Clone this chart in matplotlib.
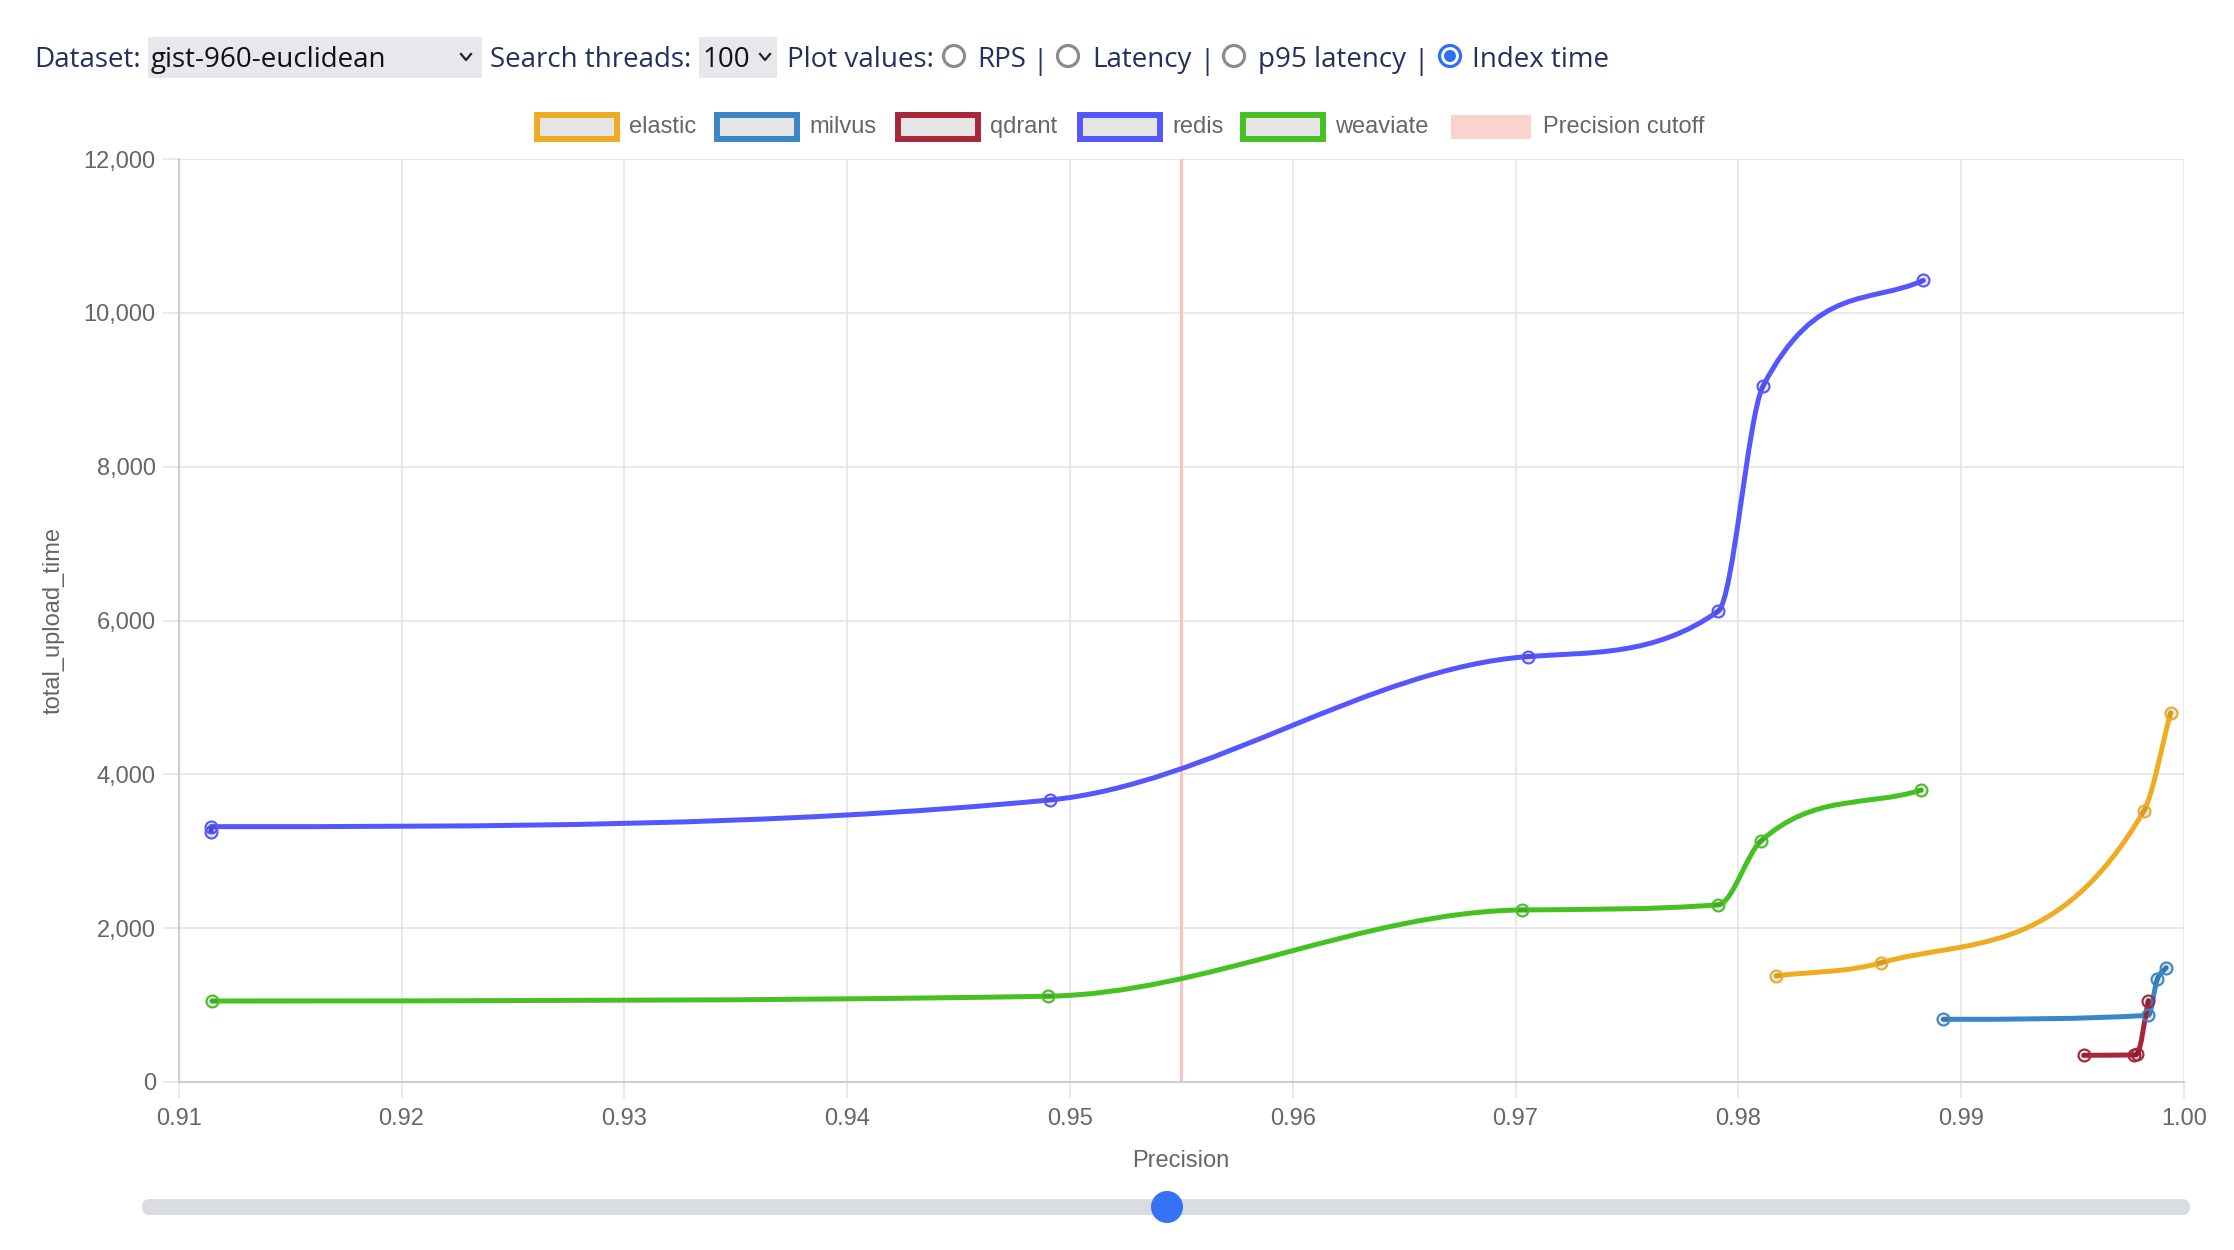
# -*- coding: utf-8 -*-

import numpy as np;
import matplotlib;
matplotlib.use("Agg");
from matplotlib import pyplot as plt;
from matplotlib.path import Path;
from matplotlib.lines import Line2D;
from matplotlib.patches import PathPatch, Rectangle, Circle, FancyBboxPatch;
from matplotlib.ticker import FuncFormatter, FixedLocator;

# values: precision on x, total_upload_time on y
engines=["elastic","milvus","qdrant","redis","weaviate"];
colors=["#efac22","#3a87c7","#a82639","#5557fe","#45c122"];

elastic_precision=[0.9817,0.9864,0.9982,0.9994];
elastic_time=[1380,1550,3525,4800];

milvus_precision=[0.9892,0.9984,0.9988,0.9992];
milvus_time=[815,867,1335,1486];

qdrant_precision=[0.9955,0.99775,0.9979,0.9984];
qdrant_time=[347,352,366,1057];

redis_precision=[0.91145,0.91145,0.9491,0.97055,0.9791,0.9811,0.9883];
redis_time=[3255,3320,3667,5531,6122,9043,10421];

weaviate_precision=[0.9115,0.9490,0.9703,0.9791,0.9810,0.9882];
weaviate_time=[1053,1115,2237,2305,3130,3795];

precision_cutoff=0.955;

x_ticks=[0.91,0.92,0.93,0.94,0.95,0.96,0.97,0.98,0.99,1.00];
y_ticks=[0,2000,4000,6000,8000,10000,12000];

plt.rcParams["font.family"]=["Liberation Sans","DejaVu Sans"];

W=2234;
H=1250;
NAVY="#22305e";
GRAY_TEXT="#666666";
GRID="#e3e3e3";

def monotonePath(xs,ys):
    # same monotone cubic as chart.js uses for cubicInterpolationMode 'monotone'
    n=len(xs);
    dk=[0.0]*n;
    mk=[0.0]*n;
    for i in range(n-1):
        dx=xs[i+1]-xs[i];
        dk[i]=(ys[i+1]-ys[i])/dx if dx!=0 else 0.0;
    for i in range(n):
        if i==0:
            mk[i]=dk[i];
        elif i==n-1:
            mk[i]=dk[i-1];
        elif np.sign(dk[i-1])!=np.sign(dk[i]):
            mk[i]=0.0;
        else:
            mk[i]=(dk[i-1]+dk[i])/2;
    for i in range(n-1):
        if abs(dk[i])<1e-9:
            mk[i]=0.0;
            mk[i+1]=0.0;
            continue;
        a=mk[i]/dk[i];
        b=mk[i+1]/dk[i];
        sq=a*a+b*b;
        if sq<=9:
            continue;
        tau=3/np.sqrt(sq);
        mk[i]=a*tau*dk[i];
        mk[i+1]=b*tau*dk[i];
    verts=[(xs[0],ys[0])];
    codes=[Path.MOVETO];
    for i in range(n-1):
        d=(xs[i+1]-xs[i])/3;
        verts.append((xs[i]+d,ys[i]+d*mk[i]));
        verts.append((xs[i+1]-d,ys[i+1]-d*mk[i+1]));
        verts.append((xs[i+1],ys[i+1]));
        codes+= [Path.CURVE4,Path.CURVE4,Path.CURVE4];
    return Path(verts,codes);

def drawChevron(ov,x,y):
    ov.add_line(Line2D([x-5,x,x+5],[y-3,y+3,y-3],color="#222222",lw=1.6));

def drawRadio(ov,x,y,selected):
    if selected:
        ov.add_patch(Circle((x,y),10.5,facecolor="white",edgecolor="#2f6ff5",lw=2.3));
        ov.add_patch(Circle((x,y),6,facecolor="#2f6ff5",edgecolor="none"));
    else:
        ov.add_patch(Circle((x,y),10.5,facecolor="white",edgecolor="#8a8a94",lw=2.3));

def drawTopBar(ov):
    fs=20;
    base=67;
    ov.add_patch(Rectangle((148,37),334,41,facecolor="#e7e7ec",edgecolor="none"));
    ov.add_patch(Rectangle((699,37),78,41,facecolor="#e7e7ec",edgecolor="none"));
    items=[(34,"Dataset:",NAVY),(151,"gist-960-euclidean","#111111"),
           (490,"Search threads:",NAVY),(702,"100","#111111"),
           (787,"Plot values:",NAVY),(977,"RPS",NAVY),(1092,"Latency",NAVY),
           (1258,"p95 latency",NAVY),(1472,"Index time",NAVY)];
    for x,s,c in items:
        ov.text(x,base,s,fontsize=fs,color=c,family=["Open Sans","DejaVu Sans"],
                ha="left",va="baseline");
    for x in [1040,1207,1421]:
        ov.text(x,base+2,"|",fontsize=fs,color=NAVY,family=["Open Sans","DejaVu Sans"],
                ha="center",va="baseline");
    drawChevron(ov,466,57);
    drawChevron(ov,765,57);
    drawRadio(ov,954,56,False);
    drawRadio(ov,1068,56,False);
    drawRadio(ov,1234,56,False);
    drawRadio(ov,1450,56,True);

def drawLegend(ov):
    box_x=[537,717,898,1080,1243];
    for i in range(len(engines)):
        ov.add_patch(Rectangle((box_x[i],114.7),80,24,facecolor="#e5e5e5",
                               edgecolor=colors[i],lw=4.3));
        ov.text(box_x[i]+92,127,engines[i],fontsize=17,color=GRAY_TEXT,
                ha="left",va="center");
    ov.add_patch(Rectangle((1451,114.7),80,24,facecolor="#f9d3cd",edgecolor="none"));
    ov.text(1543,127,"Precision cutoff",fontsize=17,color=GRAY_TEXT,ha="left",va="center");

def drawSlider(ov):
    ov.add_patch(FancyBboxPatch((142,1199),2048,16,boxstyle="round,pad=0,rounding_size=8",
                                facecolor="#d9dce1",edgecolor="none"));
    ov.add_patch(Circle((1167,1207),16,facecolor="#3472f6",edgecolor="none"));

fig=plt.figure(figsize=(W/100,H/100),dpi=100);

# overlay in pixel units for the page controls around the chart
ov=fig.add_axes([0,0,1,1]);
ov.set_xlim(0,W);
ov.set_ylim(H,0);
ov.axis("off");
ov.patch.set_alpha(0);

drawTopBar(ov);
drawLegend(ov);
drawSlider(ov);
ov.text(1181,1161,"Precision",fontsize=17,color=GRAY_TEXT,ha="center",va="center");
ov.text(54,620,"total_upload_time",fontsize=17,color=GRAY_TEXT,ha="center",va="center",
        rotation=90);

left=178.7/W;
right=2184/W;
bottom=1-1082/H;
top=1-159/H;
ax=fig.add_axes([left,bottom,right-left,top-bottom]);
ax.patch.set_alpha(0);
ax.set_xlim(0.91,1.00);
ax.set_ylim(0,12000);

ax.xaxis.set_major_locator(FixedLocator(x_ticks));
ax.yaxis.set_major_locator(FixedLocator(y_ticks));
ax.xaxis.set_major_formatter(FuncFormatter(lambda v,p: "%.2f"%v));
ax.yaxis.set_major_formatter(FuncFormatter(lambda v,p: "{:,}".format(int(round(v)))));
ax.grid(True,color=GRID,lw=1.1,zorder=0);
ax.set_axisbelow(True);
ax.tick_params(axis="both",length=11.5,width=1.1,color=GRID,labelcolor=GRAY_TEXT,
               labelsize=17);
ax.tick_params(axis="y",pad=5);
ax.tick_params(axis="x",pad=7);
for side in ["top","right"]:
    ax.spines[side].set_visible(False);
for side in ["left","bottom"]:
    ax.spines[side].set_color("#cfcfcf");
    ax.spines[side].set_linewidth(1.5);

ax.axvline(precision_cutoff,color="#f7c5bd",lw=2.2,zorder=1);

series=[(elastic_precision,elastic_time),(milvus_precision,milvus_time),
        (qdrant_precision,qdrant_time),(redis_precision,redis_time),
        (weaviate_precision,weaviate_time)];
for i in range(len(series)):
    xs,ys=series[i];
    ax.add_patch(PathPatch(monotonePath(xs,ys),fill=False,edgecolor=colors[i],lw=3.6,
                           capstyle="round",joinstyle="round",zorder=3));
    ax.plot(xs,ys,"o",ms=8.6,mfc=(0,0,0,0.1),mec=colors[i],mew=1.5,zorder=4);

fig.savefig("out.png",dpi=100);
